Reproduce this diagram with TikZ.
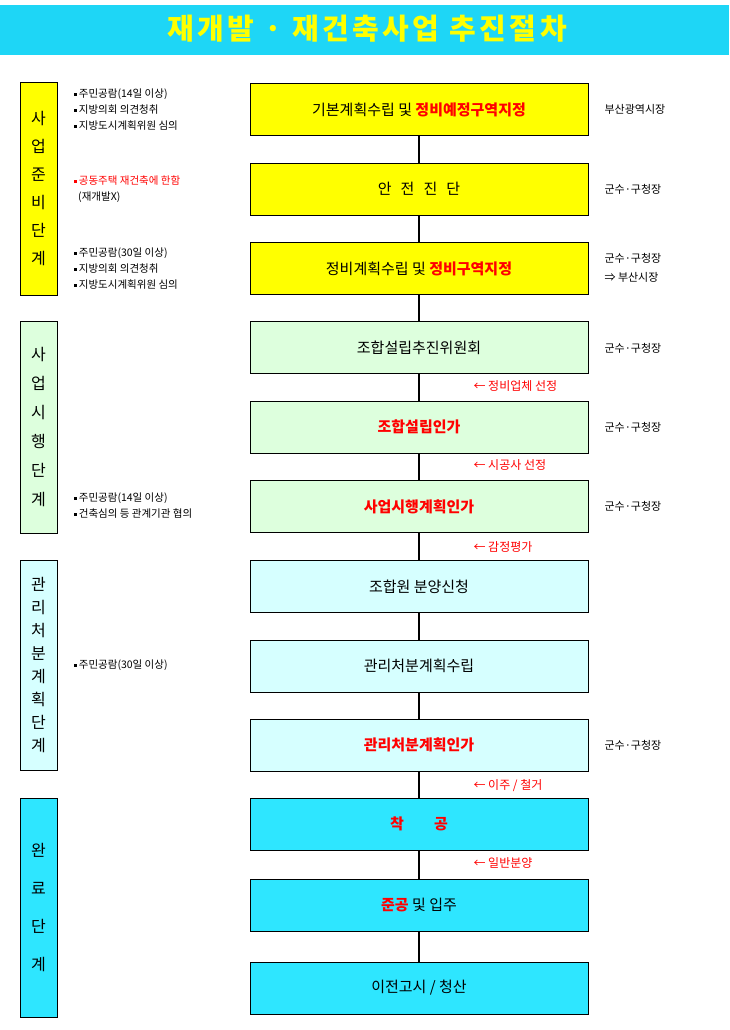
\documentclass[tikz,border=0pt]{standalone}
\usepackage{fontspec}
\setmainfont{Noto Sans CJK KR}
\definecolor{ttl}{RGB}{30,214,246}
\definecolor{ttxt}{RGB}{255,255,0}
\definecolor{yel}{RGB}{255,255,0}
\definecolor{grn}{RGB}{221,255,221}
\definecolor{lcy}{RGB}{214,255,255}
\definecolor{cyn}{RGB}{46,230,255}
\definecolor{rd}{RGB}{255,0,0}
\tikzset{
 mbox/.style={draw=black,line width=1pt,minimum width=338pt,minimum height=52pt,font=\fontsize{15}{17}\selectfont,inner sep=0pt},
 sbox/.style={draw=black,line width=1pt,minimum width=37pt,inner sep=0pt,align=center},
 rlab/.style={anchor=west,font=\fontsize{11}{19}\selectfont,align=left},
 alab/.style={anchor=west,font=\fontsize{12}{14}\selectfont,text=rd},
 note/.style={anchor=north west,font=\fontsize{10.5}{16}\selectfont,align=left},
 conn/.style={line width=1.2pt}
}
\newcommand{\bl}{\raisebox{1.5pt}{\rule{3pt}{3pt}}\ }
\begin{document}
\begin{tikzpicture}[x=1pt,y=-1pt]
\useasboundingbox (0,0) rectangle (729,1030);
\fill[ttl] (0,5) rectangle (729,55);
\node[font=\fontsize{29}{31}\selectfont\bfseries\addfontfeature{LetterSpace=12},text=ttxt] (title) at (367,29) {재개발 · 재건축사업 추진절차};
% stages
\node[sbox,fill=yel,minimum height=212pt,font=\fontsize{16}{28}\selectfont] (s1) at (38.5,189) {사\\업\\준\\비\\단\\계};
\node[sbox,fill=grn,minimum height=212pt,font=\fontsize{16}{29}\selectfont] (s2) at (38.5,427) {사\\업\\시\\행\\단\\계};
\node[sbox,fill=lcy,minimum height=210pt,font=\fontsize{16}{23}\selectfont] (s3) at (38.5,665) {관\\리\\처\\분\\계\\획\\단\\계};
\node[sbox,fill=cyn,minimum height=219pt,font=\fontsize{16}{38}\selectfont] (s4) at (38.5,907.5) {완\\료\\단\\계};
% main boxes
\node[mbox,fill=yel] (b1) at (419,109.5) {기본계획수립 및 \textcolor{rd}{\bfseries 정비예정구역지정}};
\node[mbox,fill=yel] (b2) at (419,189) {안\hspace{0.6em}전\hspace{0.6em}진\hspace{0.6em}단};
\node[mbox,fill=yel] (b3) at (419,268.5) {정비계획수립 및 \textcolor{rd}{\bfseries 정비구역지정}};
\node[mbox,fill=grn] (b4) at (419,347.5) {조합설립추진위원회};
\node[mbox,fill=grn] (b5) at (419,427) {\textcolor{rd}{\bfseries 조합설립인가}};
\node[mbox,fill=grn] (b6) at (419,506.5) {\textcolor{rd}{\bfseries 사업시행계획인가}};
\node[mbox,fill=lcy] (b7) at (419,586.5) {조합원 분양신청};
\node[mbox,fill=lcy] (b8) at (419,666) {관리처분계획수립};
\node[mbox,fill=lcy] (b9) at (419,745) {\textcolor{rd}{\bfseries 관리처분계획인가}};
\node[mbox,fill=cyn] (b10) at (419,824) {\textcolor{rd}{\bfseries 착\hspace{2em}공}};
\node[mbox,fill=cyn] (b11) at (419,905.5) {\textcolor{rd}{\bfseries 준공} 및 입주};
\node[mbox,fill=cyn] (b12) at (419,988) {이전고시 / 청산};
\foreach \a/\b in {b1/b2,b2/b3,b3/b4,b4/b5,b5/b6,b6/b7,b7/b8,b8/b9,b9/b10,b10/b11,b11/b12}
  \draw[conn] (\a.south) -- (\b.north);
% right labels
\node[rlab] (r1) at (601,109) {부산광역시장};
\node[rlab] (r2) at (601,189) {군수·구청장};
\node[rlab] (r3) at (601,268) {군수·구청장\\⇒ 부산시장};
\node[rlab] (r4) at (601,348) {군수·구청장};
\node[rlab] (r5) at (601,427) {군수·구청장};
\node[rlab] (r6) at (601,506) {군수·구청장};
\node[rlab] (r9) at (601,745) {군수·구청장};
% arrow labels
\node[alab] (a1) at (470,386) {← 정비업체 선정};
\node[alab] (a2) at (470,465) {← 시공사 선정};
\node[alab] (a3) at (470,547) {← 감정평가};
\node[alab] (a4) at (470,786) {← 이주 / 철거};
\node[alab] (a5) at (470,863) {← 일반분양};
% notes
\node[note] (n1) at (70,85) {\bl 주민공람(14일 이상)\\\bl 지방의회 의견청취\\\bl 지방도시계획위원 심의};
\node[note] (n2) at (70,172) {\textcolor{rd}{\bl 공동주택 재건축에 한함}\\\ \ (재개발X)};
\node[note] (n3) at (70,244) {\bl 주민공람(30일 이상)\\\bl 지방의회 의견청취\\\bl 지방도시계획위원 심의};
\node[note] (n4) at (70,489) {\bl 주민공람(14일 이상)\\\bl 건축심의 등 관계기관 협의};
\node[note] (n5) at (70,656) {\bl 주민공람(30일 이상)};
\end{tikzpicture}
\end{document}
